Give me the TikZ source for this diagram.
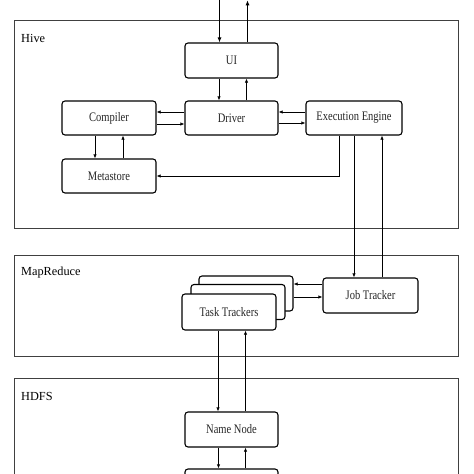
\documentclass[tikz,border=0pt]{standalone}
\usepackage{fontspec}
\usepackage{graphicx}
\setmainfont{Liberation Serif}
\usetikzlibrary{arrows.meta}
\newcommand{\bt}[1]{\scalebox{0.81}[1]{#1}}
\begin{document}
\begin{tikzpicture}[x=1pt,y=-1pt,
  frame/.style={draw=black!75,line width=1pt},
  lbl/.style={anchor=west,font=\fontsize{12.3}{14}\selectfont,inner sep=0pt},
  box/.style={draw,line width=1.1pt,rounded corners=3pt,fill=white,minimum width=93pt,minimum height=35pt,inner sep=0pt,font=\fontsize{13}{14}\selectfont,text=black!85},
  arr/.style={line width=0.6pt,-{Latex[length=4pt,width=3.2pt]}},
  tarr/.style={line width=1.4pt,-{Latex[length=5pt,width=4pt]}}]
\useasboundingbox (0,0) rectangle (474,474);
\clip (0,0) rectangle (474,474);
% frames
\draw[frame] (14,20) rectangle (458,228);
\draw[frame] (14,255) rectangle (458,356);
\draw[frame] (14,378) rectangle (458,500);
\node[lbl] (hive) at (21,38) {Hive};
\node[lbl] (mr) at (21,273) {MapReduce};
\node[lbl] (hdfs) at (21,396) {HDFS};
% Hive nodes
\node[box] (UI) at (231.5,60.5) {\bt{UI}};
\node[box,minimum width=94pt,minimum height=34pt] (C) at (109,118) {\bt{Compiler}};
\node[box,minimum height=34pt] (D) at (231.5,118) {\bt{Driver}};
\node[box,minimum width=96pt,minimum height=34pt] (EE) at (354,118) {\bt{Execution Engine}};
\node[box,minimum width=94pt,minimum height=34pt] (M) at (109,176) {\bt{Metastore}};
% MapReduce nodes
\node[box,minimum width=94pt] (TT3) at (246,293.5) {};
\node[box,minimum width=94pt] (TT2) at (238,302) {};
\node[box,minimum width=94pt,minimum height=36pt] (TT1) at (229,312) {\bt{Task Trackers}};
\node[box,minimum width=95pt] (JT) at (370.5,295.5) {\bt{Job Tracker}};
% HDFS nodes
\node[box] (NN) at (231.5,429.5) {\bt{Name Node}};
\node[box] (DN) at (231.5,486.5) {};
% top arrows
\coordinate (in) at (219.5,-2);
\coordinate (out) at (247.5,0.3);
\draw[tarr] (in) -- (in |- UI.north);
\draw[tarr] (UI.north -| out) -- (out);
% UI <-> Driver
\draw[arr] ([xshift=-12.5pt]UI.south) -- ([xshift=-12.5pt]D.north);
\draw[arr] ([xshift=15pt]D.north) -- ([xshift=15pt]UI.south);
% Driver <-> Compiler
\draw[arr] ([yshift=6pt]D.west) -- ([yshift=6pt]C.east);
\draw[arr] ([yshift=-6pt]C.east) -- ([yshift=-6pt]D.west);
% EE <-> Driver
\draw[arr] ([yshift=6pt]EE.west) -- ([yshift=6pt]D.east);
\draw[arr] ([yshift=-5pt]D.east) -- ([yshift=-5pt]EE.west);
% Compiler <-> Metastore
\draw[arr] ([xshift=-14pt]C.south) -- ([xshift=-14pt]M.north);
\draw[arr] ([xshift=14pt]M.north) -- ([xshift=14pt]C.south);
% EE -> Metastore
\draw[arr] ([xshift=-15pt]EE.south) |- (M.east);
% EE <-> JT
\draw[arr] (EE.south) -- (EE.south |- JT.north);
\draw[arr] ([xshift=11.5pt]JT.north) coordinate (j1) -- (j1 |- EE.south);
% JT <-> TT
\draw[arr] ([yshift=11.5pt]JT.west) coordinate (j2) -- (j2 -| TT3.east);
\coordinate (j3) at ([yshift=-1.5pt]JT.west);
\draw[arr] (j3 -| TT3.east) -- (j3);
% TT <-> NN
\draw[arr] ([xshift=-11pt]TT1.south) coordinate (t1) -- (t1 |- NN.north);
\draw[arr] ([xshift=14pt]NN.north) coordinate (t2) -- (t2 |- TT1.south);
% NN <-> DN
\draw[arr] ([xshift=-13pt]NN.south) -- ([xshift=-13pt]DN.north);
\draw[arr] ([xshift=14pt]DN.north) -- ([xshift=14pt]NN.south);
\end{tikzpicture}
\end{document}
